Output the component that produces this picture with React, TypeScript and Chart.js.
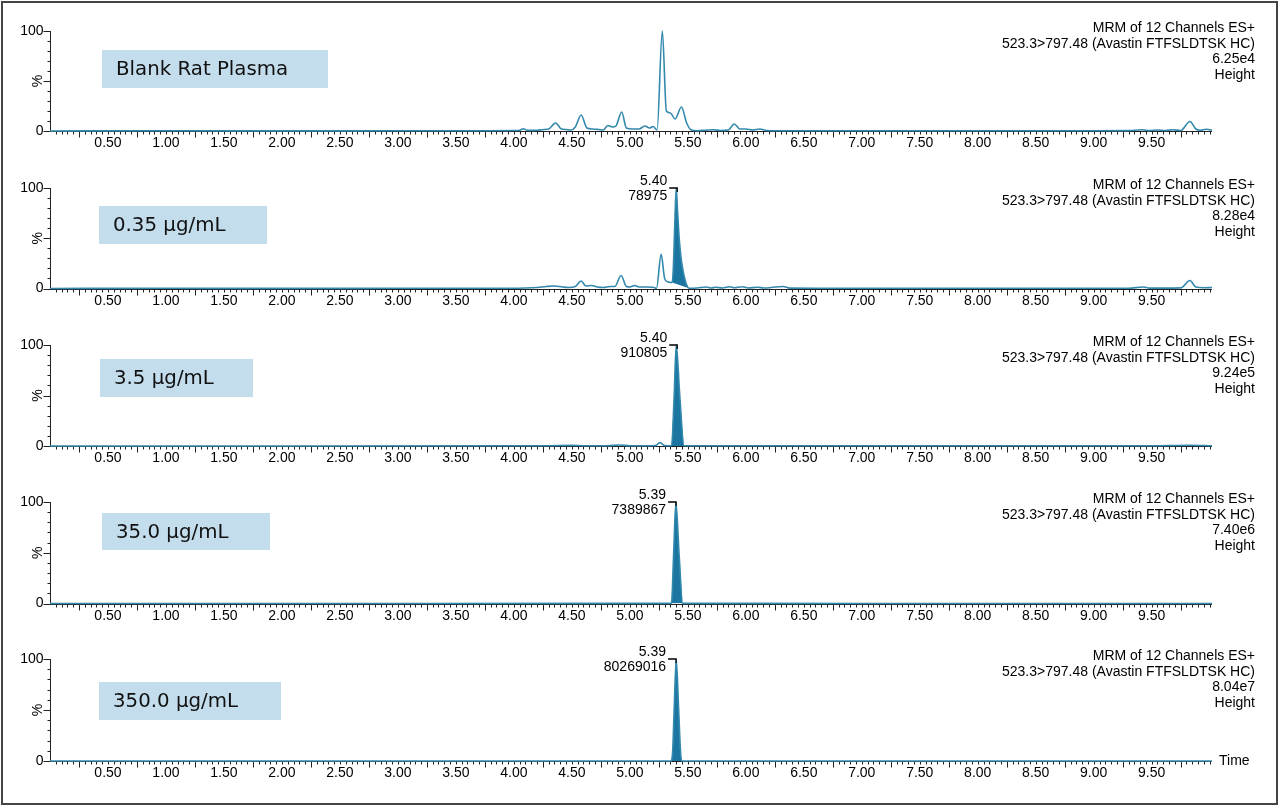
import { useEffect, useRef } from 'react';
import { Chart, registerables } from 'chart.js';

Chart.register(...registerables);

const FONT = '"Liberation Sans", Arial, Helvetica, sans-serif';
const LABEL_FONT = '"DejaVu Sans", Verdana, sans-serif';
const LINE_COLOR = '#3389ad';
const FILL_COLOR = '#1a76a0';
const BOX_COLOR = '#c4dded';
const TEXT_COLOR = '#000';

// ---- data (time in min, intensity in %) ----
const blankTime = [
    0, 1.0, 2.0, 3.0, 3.8, 4.0, 4.05, 4.08, 4.12, 4.2, 4.26, 4.3, 4.36, 4.41, 4.45, 4.49, 4.53, 4.58,
    4.63, 4.68, 4.73, 4.77, 4.81, 4.85, 4.88, 4.93, 4.97, 5.02, 5.08, 5.13, 5.17, 5.2, 5.235, 5.28,
    5.315, 5.35, 5.39, 5.445, 5.49, 5.53, 5.58, 5.66, 5.72, 5.78, 5.85, 5.9, 5.95, 6.0, 6.06, 6.12,
    6.18, 6.3, 6.6, 7.0, 7.5, 8.0, 8.5, 9.0, 9.3, 9.42, 9.48, 9.55, 9.62, 9.68, 9.75, 9.83, 9.88,
    9.92, 9.97, 10.02,
];
const blankPct = [
    0, 0.2, 0.1, 0.2, 0.3, 0.5, 0.8, 2.2, 0.6, 0.8, 1.5, 2.0, 8, 2, 1.5, 1, 4, 16,
    3, 2, 1.5, 1, 5.5, 4, 5, 19, 3, 2, 2, 5, 3, 4.5, 1, 100,
    20, 18, 12, 24, 8, 1, 0.3, 0.8, 1.2, 0.5, 1, 7, 2, 2, 1, 2,
    0.5, 0.3, 0.2, 0.3, 0.2, 0.3, 0.2, 0.3, 0.4, 1.2, 0.4, 1, 0.5, 1.2, 0.5, 9.5, 2,
    0.8, 1.8, 1.0,
];

const std1Time = [
    0, 1.0, 2.0, 3.0, 3.9, 4.1, 4.2, 4.28, 4.35, 4.42, 4.47, 4.53, 4.58, 4.62, 4.67, 4.72, 4.77,
    4.83, 4.87, 4.925, 4.97, 5.0, 5.04, 5.08, 5.14, 5.2, 5.23, 5.27, 5.3, 5.33, 5.365, 5.375,
    5.385, 5.4, 5.41, 5.425, 5.44, 5.46, 5.48, 5.51, 5.58, 5.66, 5.7, 5.74, 5.8, 5.86, 5.9, 5.97,
    6.02, 6.1, 6.16, 6.22, 6.32, 6.38, 6.6, 7.0, 7.5, 8.0, 8.5, 9.0, 9.3, 9.43, 9.48, 9.6, 9.75,
    9.83, 9.88, 9.95, 10.02,
];
const std1Pct = [
    0, 0.2, 0.1, 0.2, 0.3, 0.5, 1, 2, 2.5, 1.5, 1, 2, 7.5, 2.5, 3, 1.5, 1,
    2, 2, 13, 2, 1.5, 3, 1.5, 1.5, 1.2, 0.3, 34, 10, 6.5, 6, 20,
    55, 100, 80, 51, 32, 17, 7, 0.3, 0.5, 1.5, 0.5, 1.2, 0.5, 1.8, 0.8, 1.8,
    0.5, 1.2, 0.5, 1, 2, 0.4, 0.3, 0.2, 0.3, 0.2, 0.3, 0.2, 0.3, 1.5, 0.4, 0.4, 0.6,
    8, 1.5, 0.8, 1,
];
const std1BaseTime = [5.365, 5.51];
const std1BasePct = [6, 0.3];

const std2Time = [
    0, 2.0, 4.0, 4.3, 4.5, 4.6, 4.8, 4.91, 5.0, 5.15, 5.22, 5.26, 5.3, 5.36, 5.382, 5.4, 5.431,
    5.466, 5.55, 6.0, 6.5, 7.5, 8.5, 9.5, 9.83, 10.02,
];
const std2Pct = [
    0, 0, 0.2, 0.3, 0.6, 0.3, 0.3, 1.0, 0.3, 0.3, 0.5, 3.3, 0.5, 0.2, 49, 100, 49,
    0.3, 0.2, 0.3, 0.2, 0.2, 0.2, 0.3, 0.8, 0.3,
];

const std3Time = [0, 3.0, 5.0, 5.3, 5.359, 5.378, 5.397, 5.425, 5.455, 6.0, 8.0, 10.02];
const std3Pct = [0, 0, 0.1, 0.1, 0.1, 50, 100, 48, 0.1, 0.1, 0, 0];

const std4Time = [0, 5.0, 5.358, 5.37, 5.383, 5.4, 5.42, 5.436, 5.446, 6.0, 10.02];
const std4Pct = [0, 0, 0, 11, 53, 100, 53, 11, 0, 0, 0];

const sampleNames = ['Blank Rat Plasma', '0.35 µg/mL', '3.5 µg/mL', '35.0 µg/mL', '350.0 µg/mL'];
const channelTitle = 'MRM of 12 Channels ES+';
const transitionTitle = '523.3>797.48 (Avastin FTFSLDTSK HC)';
const fullScale = ['6.25e4', '8.28e4', '9.24e5', '7.40e6', '8.04e7'];
const peakTimes = [null, 5.4, 5.4, 5.39, 5.39];
const peakHeights = [null, '78975', '910805', '7389867', '80269016'];
const peakStart = [null, 5.365, 5.36, 5.359, 5.358];
const peakEnd = [null, 5.51, 5.466, 5.455, 5.446];
const xTickLabels = [
    '0.50', '1.00', '1.50', '2.00', '2.50', '3.00', '3.50', '4.00', '4.50',
    '5.00', '5.50', '6.00', '6.50', '7.00', '7.50', '8.00', '8.50', '9.00', '9.50',
];

const traceTimes = [blankTime, std1Time, std2Time, std3Time, std4Time];
const tracePcts = [blankPct, std1Pct, std2Pct, std3Pct, std4Pct];

// ---- layout ----
const CANVAS_H = 157;
const TOP_PAD = 31;
const panelTop = [31, 188, 345, 502, 659]; // y of 100 %
const panelBottom = [131, 288.5, 446, 603.5, 761]; // y of 0 %
const boxes = [
    { x: 102, y: 19, w: 226, h: 38 },
    { x: 99, y: 18, w: 168, h: 38 },
    { x: 100, y: 14, w: 153, h: 38 },
    { x: 102, y: 11, w: 168, h: 37 },
    { x: 99, y: 23, w: 182, h: 38 },
];

const toPoints = (ts: number[], ys: number[]) => ts.map((t, i) => ({ x: t, y: ys[i] }));

const makePlugin = (i: number) => ({
    id: 'chrom' + i,
    beforeDatasetsDraw(chart: any) {
        const { ctx, chartArea: a, scales } = chart;
        const x = scales.x;
        const y = scales.y;
        const ax = Math.round(a.left) + 0.5;
        const ay = Math.round(y.getPixelForValue(0)) + 0.5;
        ctx.save();
        ctx.strokeStyle = '#222';
        ctx.lineWidth = 1;
        ctx.beginPath();
        ctx.moveTo(ax, y.getPixelForValue(100));
        ctx.lineTo(ax, ay);
        for (let v = 0; v <= 100; v += 10) {
            const py = Math.round(y.getPixelForValue(v)) + 0.5;
            const len = v % 50 === 0 ? 7 : 3;
            ctx.moveTo(ax - len, py);
            ctx.lineTo(ax, py);
        }
        ctx.moveTo(a.left, ay);
        ctx.lineTo(a.right, ay);
        for (let k = 1; k * 0.05 <= x.max + 1e-6; k++) {
            const px = Math.round(x.getPixelForValue(k * 0.05)) + 0.5;
            const len = k % 10 === 5 ? 6 : 3;
            ctx.moveTo(px, ay);
            ctx.lineTo(px, ay + len);
        }
        ctx.stroke();

        ctx.fillStyle = TEXT_COLOR;
        ctx.font = `14px ${FONT}`;
        ctx.textAlign = 'center';
        ctx.textBaseline = 'middle';
        xTickLabels.forEach((lab) => {
            ctx.fillText(lab, x.getPixelForValue(parseFloat(lab)), ay + 12);
        });
        ctx.textAlign = 'right';
        ctx.fillText('100', ax - 7, y.getPixelForValue(100));
        ctx.fillText('0', ax - 7, y.getPixelForValue(0));
        ctx.save();
        ctx.translate(38, y.getPixelForValue(50));
        ctx.rotate(-Math.PI / 2);
        ctx.textAlign = 'center';
        ctx.fillText('%', 0, 0);
        ctx.restore();
        if (i === 4) {
            ctx.textAlign = 'left';
            ctx.fillText('Time', a.right + 7, ay);
        }
        ctx.restore();
    },
    afterDraw(chart: any) {
        const { ctx, scales } = chart;
        const x = scales.x;
        const y = scales.y;
        const top = y.getPixelForValue(100);
        ctx.save();
        ctx.fillStyle = TEXT_COLOR;
        ctx.font = `14px ${FONT}`;
        ctx.textAlign = 'right';
        ctx.textBaseline = 'middle';
        [channelTitle, transitionTitle, fullScale[i], 'Height'].forEach((line, j) => {
            ctx.fillText(line, 1255, top - 2.5 + j * 15.5);
        });

        const pt = peakTimes[i];
        if (pt !== null) {
            const px = x.getPixelForValue(pt) + 1;
            ctx.fillText(pt.toFixed(2), px - 10, top - 7);
            ctx.fillText(peakHeights[i] as string, px - 10, top + 8.5);
            ctx.strokeStyle = TEXT_COLOR;
            ctx.lineWidth = 1.3;
            ctx.beginPath();
            ctx.moveTo(px - 8, top);
            ctx.lineTo(px, top);
            ctx.lineTo(px, top + 4);
            ctx.stroke();
        }

        const b = boxes[i];
        ctx.fillStyle = BOX_COLOR;
        ctx.fillRect(b.x, top + b.y, b.w, b.h);
        ctx.fillStyle = '#111';
        ctx.font = `19.8px ${LABEL_FONT}`;
        ctx.textAlign = 'left';
        ctx.fillText(sampleNames[i], b.x + 14, top + b.y + b.h / 2 + 1);
        ctx.restore();
    },
});

const ChromPanel = ({ index }: { index: number }) => {
    const canvasRef = useRef<HTMLCanvasElement | null>(null);

    useEffect(() => {
        if (!canvasRef.current) return;
        const trace = toPoints(traceTimes[index], tracePcts[index]);
        const datasets: any[] = [
            {
                data: trace,
                borderColor: LINE_COLOR,
                borderWidth: 1.6,
                pointRadius: 0,
                cubicInterpolationMode: 'monotone',
                fill: false,
                clip: false,
            },
        ];
        const s = peakStart[index];
        const e = peakEnd[index];
        if (s !== null && e !== null) {
            datasets.push({
                data: trace.filter((p) => p.x >= s - 1e-9 && p.x <= e + 1e-9),
                borderColor: 'rgba(0,0,0,0)',
                borderWidth: 0,
                backgroundColor: FILL_COLOR,
                pointRadius: 0,
                cubicInterpolationMode: 'monotone',
                fill: index === 1 ? 2 : 'origin',
                clip: false,
            });
            if (index === 1) {
                datasets.push({
                    data: toPoints(std1BaseTime, std1BasePct),
                    borderColor: 'rgba(0,0,0,0)',
                    borderWidth: 0,
                    pointRadius: 0,
                    fill: false,
                });
            }
        }

        const height = panelBottom[index] - panelTop[index];
        const chart = new Chart(canvasRef.current, {
            type: 'line',
            data: { datasets },
            options: {
                animation: false,
                responsive: false,
                maintainAspectRatio: false,
                events: [],
                layout: {
                    padding: { left: 50, right: 68, top: TOP_PAD, bottom: CANVAS_H - TOP_PAD - height },
                },
                scales: {
                    x: { type: 'linear', min: 0, max: 10.02, display: false },
                    y: { min: 0, max: 100, display: false },
                },
                plugins: { legend: { display: false }, tooltip: { enabled: false } },
            },
            plugins: [makePlugin(index)],
        } as any);

        return () => {
            chart.destroy();
        };
    }, [index]);

    return (
        <canvas
            ref={canvasRef}
            width={1280}
            height={CANVAS_H}
            style={{ position: 'absolute', left: 0, top: panelTop[index] - TOP_PAD, width: 1280, height: CANVAS_H }}
        />
    );
};

export default function App() {
    useEffect(() => {
        document.body.style.margin = '0';
    }, []);

    return (
        <div style={{ position: 'relative', width: 1280, height: 810, background: '#fff', overflow: 'hidden' }}>
            <div
                style={{
                    position: 'absolute',
                    left: 1,
                    top: 1,
                    width: 1277,
                    height: 804,
                    border: '2px solid #444',
                    boxSizing: 'border-box',
                }}
            />
            {sampleNames.map((_, i) => (
                <ChromPanel key={i} index={i} />
            ))}
        </div>
    );
}
